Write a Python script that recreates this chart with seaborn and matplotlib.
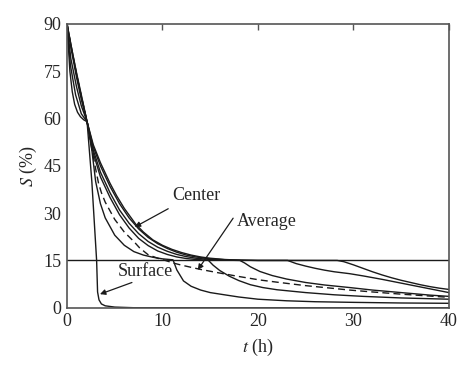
import numpy as np
import pandas as pd
import matplotlib
matplotlib.use("Agg")
import matplotlib.pyplot as plt
import seaborn as sns

# moisture content S (%) vs drying time t (h) for each layer
t_surface = [0, 0.5, 1, 1.5, 2.1, 2.6, 3.1, 3.2, 3.35, 3.6, 4, 5, 7, 40]
s_surface = [90, 82, 74, 67, 59, 40, 15, 5, 2.5, 1.2, 0.6, 0.2, 0, 0]

t_layer2 = [0, 0.5, 1, 1.5, 2.1, 2.6, 3, 3.5, 4, 5, 6, 7, 8, 9, 10, 11.1,
            11.5, 12.2, 13, 14, 15, 16.7, 18, 20, 23, 26, 30, 35, 40]
s_layer2 = [90, 82, 74.5, 67.5, 59, 50, 40, 33, 28.5, 23, 19.8, 17.8, 16.7, 16, 15.5, 15.2,
            12, 8.5, 6.8, 5.6, 4.8, 4.0, 3.4, 2.7, 2.2, 1.9, 1.7, 1.5, 1.4]

t_layer3 = [0, 0.5, 1, 1.5, 2.1, 2.75, 3.5, 4.5, 5.5, 6.5, 7.5, 8.5, 9.5, 10.5, 11.5, 12.5, 13.5, 14.8,
            15.3, 16, 17, 18, 19.2, 20.5, 22, 25, 28, 31, 35, 40]
s_layer3 = [90, 81, 73, 66, 59, 49, 41.5, 35, 29.5, 25.3, 22, 19.7, 18, 16.9, 16.1, 15.6, 15.3, 15.05,
            13.5, 11.8, 10, 8.6, 7.3, 6.4, 5.7, 4.8, 4.1, 3.6, 3.1, 2.7]

t_layer4 = [0, 0.4, 1, 1.5, 2.1, 2.75, 3.5, 4.5, 5.5, 6.5, 7.5, 8.5, 9.5, 10.5, 11.5, 12.5, 13.5, 15, 16.5, 18.1,
            18.6, 19.2, 20.2, 21.5, 23, 25, 27, 29.6, 32, 35, 38, 40]
s_layer4 = [90, 79, 70, 64, 59, 50, 43, 36.5, 31, 26.8, 23.5, 21, 19.2, 17.9, 16.9, 16.2, 15.7, 15.3, 15.1, 15,
            14.2, 13, 11.5, 10.2, 9.1, 8, 7.2, 6.4, 5.6, 4.8, 4, 3.6]

t_layer5 = [0, 0.35, 0.9, 1.5, 2.1, 2.75, 3.5, 4.5, 5.5, 6.5, 7.5, 8.5, 9.5, 10.5, 11.5, 12.5, 13.5, 15, 17, 20, 23.1,
            24, 25, 26, 27, 28, 29.6, 31, 33, 35, 37, 40]
s_layer5 = [90, 77, 67.5, 61.5, 59, 51, 45, 38.5, 33, 28.5, 25, 22.3, 20.3, 18.8, 17.6, 16.7, 16.1, 15.5, 15.15, 15, 15,
            14.0, 13.2, 12.5, 11.9, 11.4, 10.8, 10.1, 9.0, 7.8, 6.6, 4.8]

t_center = [0, 0.3, 0.55, 0.8, 1.1, 1.4, 1.75, 2.1, 2.75, 3.5, 4.5, 5.2, 6, 7.2, 8, 9, 10, 11, 12, 13, 14, 15, 16.5, 18, 20, 28.3,
            29, 30, 31, 32, 33, 34, 35, 36, 37, 38, 39, 40]
s_center = [90, 75, 68.5, 64.5, 62, 60.6, 59.6, 59, 51.7, 46, 39.5, 35.5, 31.5, 26.5, 24, 21.5, 19.8, 18.5, 17.5, 16.7, 16.1, 15.7, 15.3, 15.1, 15, 15,
            14.6, 13.6, 12.5, 11.4, 10.4, 9.5, 8.7, 8.0, 7.3, 6.7, 6.2, 5.8]

t_average = [0, 0.5, 1, 1.5, 2.1, 2.5, 3, 3.3, 3.6, 4, 5, 6, 7, 7.6, 8.5, 9.5, 10.3, 11.1, 12, 13.9, 16, 18,
             20.2, 22, 25, 28, 29.6, 32, 35, 38, 40]
s_average = [90, 81.5, 74, 67, 59, 52, 44, 39.5, 36.5, 33.5, 28, 24, 21, 19, 16.8, 15.7, 15.0, 14.2, 13.5, 12.2, 11, 9.9,
             8.8, 8.1, 7, 6.1, 5.6, 5.0, 4.3, 3.7, 3.3]

layers = [(t_surface, s_surface), (t_layer2, s_layer2), (t_layer3, s_layer3),
          (t_layer4, s_layer4), (t_layer5, s_layer5), (t_center, s_center)]

sns.set_style("white")
plt.rcParams['font.family'] = ['Liberation Serif', 'DejaVu Serif']
plt.rcParams['mathtext.fontset'] = 'stix'

fig = plt.figure(figsize=(4.74, 3.72), dpi=100)
ax = fig.add_axes([0.1414, 0.1728, 0.8056, 0.7627])

ink = '#1a1a1a'
for tt, ss in layers:
    sns.lineplot(x=tt, y=ss, ax=ax, color=ink, lw=1.0, sort=False, estimator=None)
sns.lineplot(x=t_average, y=s_average, ax=ax, color=ink, lw=1.0, sort=False,
             estimator=None, linestyle=(0, (5, 3)))
ax.axhline(15, color=ink, lw=1.0)

ax.set_xlim(0, 40)
ax.set_ylim(0, 90)
ax.set_xticks([0, 10, 20, 30, 40])
ax.set_yticks([0, 15, 30, 45, 60, 75, 90])
ax.tick_params(direction='in', length=4, width=1, color='#555555', labelsize=13,
               top=True, right=False, pad=4)
for sp in ax.spines.values():
    sp.set_color('#555555')
    sp.set_linewidth(1.2)

ax.set_xlabel(r'$t$ (h)', fontsize=13, labelpad=5)
ax.set_ylabel(r'$S$ (%)', fontsize=13, labelpad=3)

arrow = dict(arrowstyle='-|>', color=ink, lw=0.9, mutation_scale=8, shrinkA=0, shrinkB=0)
ax.text(11.0, 32.8, 'Center', fontsize=13, ha='left', va='bottom')
ax.annotate('', xy=(7.1, 25.6), xytext=(10.6, 31.4), arrowprops=arrow)
ax.text(17.8, 27.2, 'Average', fontsize=13, ha='left', va='center')
ax.annotate('', xy=(13.7, 12.0), xytext=(17.4, 28.4), arrowprops=arrow)
ax.text(5.3, 8.8, 'Surface', fontsize=13, ha='left', va='bottom')
ax.annotate('', xy=(3.45, 4.3), xytext=(6.8, 8.0), arrowprops=arrow)

fig.savefig('out.png', dpi=100)
